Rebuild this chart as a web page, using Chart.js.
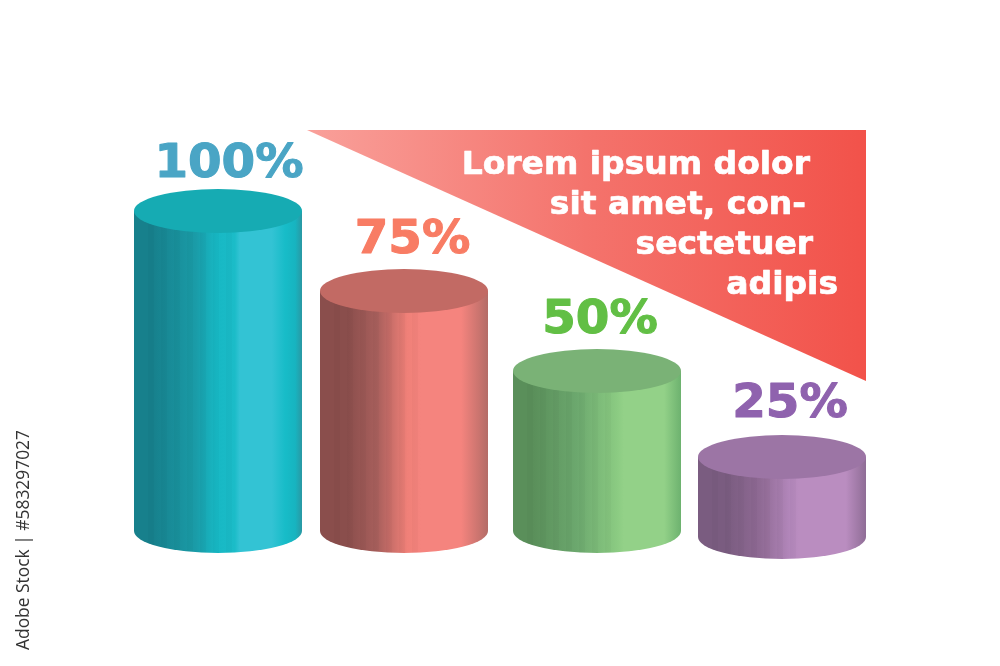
<!DOCTYPE html>
<html lang="en">
<head>
    <meta charset="UTF-8">
    <title>Cylinder percentage chart</title>
    <script src="https://cdn.jsdelivr.net/npm/chart.js@4"></script>
    <style>
        html, body { margin: 0; padding: 0; background: #fff; }
        canvas { display: block; }
    </style>
</head>
<body>
    <canvas id="myChart" width="1000" height="666"></canvas>
    <script>
        const categories = ['A', 'B', 'C', 'D'];
        const values = [100, 75, 50, 25];
        const valueLabels = ['100%', '75%', '50%', '25%'];
        const calloutLines = ['Lorem ipsum dolor', 'sit amet, con-', 'sectetuer', 'adipis'];

        const labelColors = ['#4aa5c5', '#f87c64', '#62bf45', '#8f62ae'];
        const topColors = ['#16abb3', '#c26a64', '#7ab276', '#9c75a5'];
        // side shading of each cylinder, [offset, colour] from left to right
        const sideStops = [
            [[0, '#17808c'], [0.11, '#17808c'], [0.37, '#1a9ca8'], [0.49, '#17b8c4'], [0.6, '#1bbcc8'], [0.63, '#33c3d4'], [0.82, '#33c3d4'], [0.9, '#17bcc8'], [0.96, '#17b4c0'], [1, '#2a98a3']],
            [[0, '#8a4e4c'], [0.16, '#8a4e4c'], [0.34, '#a85f5c'], [0.52, '#f08078'], [0.6, '#f5847e'], [0.84, '#f5847e'], [1, '#b46c67']],
            [[0, '#5a8f5a'], [0.12, '#5a8f5a'], [0.38, '#6ca86e'], [0.62, '#8bcb82'], [0.66, '#93d188'], [0.9, '#93d188'], [1, '#6db26f']],
            [[0, '#7a5c80'], [0.17, '#7a5c80'], [0.37, '#8f6a94'], [0.55, '#b387bb'], [0.6, '#ba8dc0'], [0.88, '#ba8dc0'], [1, '#8f6d96']]
        ];

        // small per-bar shifts, the bars in the picture are not evenly spaced
        const shiftX = [0, -2, 3, 0];
        const shiftY = [0, 0, 0, 6];
        const labelX = [11, 8.5, 3, 8];
        const labelGap = [34, 38, 38, 40];

        const ELLIPSE_RY = 22;

        function wideText(ctx, text, x, y, stretch, heavy) {
            ctx.save();
            ctx.translate(x, y);
            ctx.scale(stretch, 1);
            ctx.fillText(text, 0, 0);
            ctx.strokeStyle = ctx.fillStyle;
            ctx.lineWidth = heavy;
            ctx.lineJoin = 'round';
            ctx.strokeText(text, 0, 0);
            ctx.restore();
        }

        function drawCylinder(ctx, bar, i) {
            const cx = bar.x + shiftX[i];
            const rx = bar.width / 2;
            const top = bar.y + shiftY[i];
            const base = bar.base + shiftY[i];

            const side = ctx.createLinearGradient(cx - rx, 0, cx + rx, 0);
            sideStops[i].forEach(s => side.addColorStop(s[0], s[1]));

            ctx.save();
            ctx.fillStyle = side;
            ctx.beginPath();
            ctx.moveTo(cx - rx, top);
            ctx.lineTo(cx - rx, base);
            ctx.ellipse(cx, base, rx, ELLIPSE_RY, 0, Math.PI, 0, true);
            ctx.lineTo(cx + rx, top);
            ctx.closePath();
            ctx.fill();

            // faint vertical banding on the shaded part
            ctx.clip();
            ctx.fillStyle = 'rgba(0,0,0,0.018)';
            for (let x = cx - rx + 14; x < cx + rx * 0.1; x += 13) {
                ctx.fillRect(x, top, 6, base - top + ELLIPSE_RY);
            }
            ctx.restore();

            ctx.fillStyle = topColors[i];
            ctx.beginPath();
            ctx.ellipse(cx, top, rx, ELLIPSE_RY, 0, 0, Math.PI * 2);
            ctx.fill();

            ctx.fillStyle = labelColors[i];
            ctx.font = 'bold 46px "DejaVu Sans"';
            ctx.textAlign = 'center';
            ctx.textBaseline = 'alphabetic';
            wideText(ctx, valueLabels[i], cx + labelX[i], top - labelGap[i], 1.05, 1.1);
        }

        const cylinders = {
            id: 'cylinders',
            afterDatasetsDraw(chart) {
                const ctx = chart.ctx;
                ctx.save();

                // callout triangle
                const grad = ctx.createLinearGradient(307, 0, 866, 0);
                grad.addColorStop(0, '#f9a09a');
                grad.addColorStop(0.5, '#f4736c');
                grad.addColorStop(1, '#f2524a');
                ctx.fillStyle = grad;
                ctx.beginPath();
                ctx.moveTo(307, 130);
                ctx.lineTo(866, 130);
                ctx.lineTo(866, 381);
                ctx.closePath();
                ctx.fill();

                ctx.fillStyle = '#fff';
                ctx.font = 'bold 32px "DejaVu Sans"';
                ctx.textAlign = 'right';
                const rights = [810, 806, 813, 838];
                const lineY = [174, 214, 254, 294];
                calloutLines.forEach((line, i) => wideText(ctx, line, rights[i], lineY[i], 1.03, 0.7));

                chart.getDatasetMeta(0).data.forEach((bar, i) => drawCylinder(ctx, bar, i));

                // vertical side label
                ctx.translate(29, 650);
                ctx.rotate(-Math.PI / 2);
                ctx.fillStyle = '#333';
                ctx.font = '17.4px "Open Sans"';
                ctx.textAlign = 'left';
                ctx.fillText('Adobe Stock | #583297027', 0, 0);
                ctx.restore();
            }
        };

        new Chart(document.getElementById('myChart'), {
            type: 'bar',
            data: {
                labels: categories,
                datasets: [{
                    data: values,
                    backgroundColor: 'rgba(0,0,0,0)',
                    barPercentage: 168 / 188,
                    categoryPercentage: 1
                }]
            },
            options: {
                responsive: false,
                animation: false,
                layout: { padding: { left: 124, right: 124, top: 211, bottom: 135 } },
                plugins: { legend: { display: false }, tooltip: { enabled: false } },
                scales: {
                    x: { display: false },
                    y: { display: false, min: 0, max: 100 }
                }
            },
            plugins: [cylinders]
        });
    </script>
</body>
</html>
